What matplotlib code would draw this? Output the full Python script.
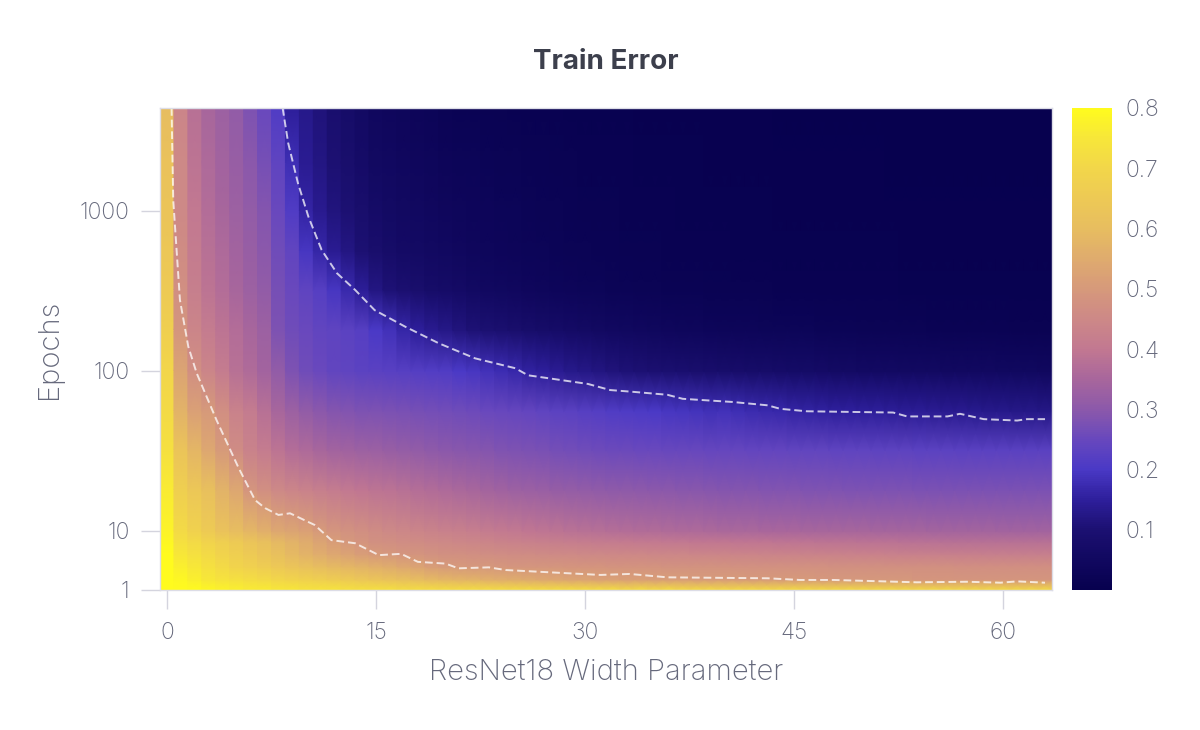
import numpy as np
import matplotlib
matplotlib.use("Agg")
import matplotlib.pyplot as plt
from matplotlib.colors import LinearSegmentedColormap

plt.rcParams['font.family'] = ['Inter', 'DejaVu Sans']

# Data (train error)
widths = list(range(64))
epochs = [1, 1.5, 2.5, 4, 6.5, 10, 18, 32, 56, 100, 180, 320, 560, 1000, 2000, 4400]

train_error = [
    # epoch 1
    [82, 81, 80, 79, 78, 77, 76, 76, 75, 75, 74, 74, 74, 73, 73, 73, 73, 72, 72, 72,
     72, 72, 72, 72, 72, 72, 72, 72, 72, 72, 72, 72, 72, 71, 72, 71, 72, 71, 71, 71,
     71, 71, 71, 71, 71, 71, 71, 71, 71, 71, 71, 71, 71, 71, 71, 71, 71, 71, 71, 71,
     71, 71, 71, 71],
    # epoch 1.5
    [81, 79, 77, 75, 74, 73, 72, 71, 70, 69, 68, 67, 66, 65, 64, 63, 62, 61, 60, 59,
     58, 57.5, 57, 56, 55.5, 55, 54.5, 54, 53.5, 53, 52.5, 52, 52, 51.5, 51.5, 51, 51, 51, 50.5, 50.5,
     50.5, 50.5, 50, 50, 50, 50, 50, 49.5, 49.5, 49.5, 49.5, 49.5, 49.5, 49.5, 49, 49, 49, 49, 49, 49,
     49, 49, 49, 49],
    # epoch 2.5
    [80, 77, 75, 73, 71, 69, 67.5, 66, 64.5, 63, 61.5, 60, 59, 58, 57, 56, 55, 54, 52.5, 51,
     50, 49.8, 49.5, 49.5, 49.3, 49, 49, 48.8, 48.8, 48.5, 48.5, 48.5, 48.3, 48.3, 48.2, 48.2, 48, 48, 48, 48,
     48, 47.8, 47.8, 47.8, 47.7, 47.7, 47.6, 47.6, 47.5, 47.5, 47.5, 47.4, 47.4, 47.3, 47.3, 47.2, 47.2, 47.1, 47.1, 47,
     47, 47, 47, 47],
    # epoch 4
    [80, 75, 73, 71, 69, 67, 65, 63, 61, 59, 57, 55.5, 54, 52.5, 51, 50, 49.5, 49, 48.5, 48,
     47.5, 47.2, 47, 46.7, 46.5, 46.2, 46, 45.8, 45.6, 45.4, 45.2, 45, 44.9, 44.8, 44.7, 44.6, 44.5, 44.4, 44.3, 44.2,
     44, 43.9, 43.8, 43.7, 43.6, 43.5, 43.4, 43.3, 43.2, 43.1, 43, 42.9, 42.8, 42.7, 42.6, 42.5, 42.4, 42.3, 42.2, 42.1,
     42, 42, 42, 42],
    # epoch 6.5
    [79, 73, 71, 69, 67, 65, 63, 61, 59, 57, 55, 53, 51, 49.5, 48.5, 47.5, 47, 46.5, 46, 45.5,
     45, 44.6, 44.2, 43.8, 43.4, 43, 42.7, 42.4, 42.1, 41.8, 41.5, 41.2, 41, 40.8, 40.6, 40.4, 40.2, 40, 39.9, 39.8,
     39.7, 39.6, 39.5, 39.4, 39.3, 39.2, 39.1, 39, 38.9, 38.8, 38.7, 38.6, 38.5, 38.4, 38.3, 38.2, 38.1, 38, 38, 38,
     38, 38, 38, 38],
    # epoch 10
    [78, 71, 68, 65, 62, 60, 58, 56, 54, 53, 52, 50, 49, 48, 47, 46, 45.3, 44.6, 44, 43.4,
     42.8, 42.2, 41.6, 41, 40.5, 40, 39.6, 39.2, 38.8, 38.4, 38, 37.7, 37.4, 37.1, 36.8, 36.6, 36.4, 36.2, 36, 35.8,
     35.6, 35.5, 35.4, 35.3, 35.2, 35.1, 35, 35, 34.9, 34.8, 34.7, 34.6, 34.5, 34.4, 34.4, 34.3, 34.3, 34.2, 34.2, 34.1,
     34, 34, 34, 34],
    # epoch 18
    [76, 67, 64, 61, 57, 54, 49, 47, 45, 44, 43, 42, 41, 40, 39.5, 39, 38.5, 38, 37.3, 36.6,
     36, 35.4, 34.8, 34.2, 33.6, 33, 32.6, 32.2, 31.8, 31.4, 31, 30.8, 30.6, 30.4, 30.2, 30, 29.8, 29.6, 29.4, 29.2,
     29, 28.9, 28.8, 28.7, 28.6, 28.5, 28.4, 28.3, 28.2, 28.1, 28, 28, 27.9, 27.9, 27.8, 27.8, 27.7, 27.7, 27.6, 27.6,
     27.5, 27.5, 27.5, 27.5],
    # epoch 32
    [73, 63, 58, 54, 50, 46, 43, 41, 39, 37, 36, 35, 34, 33.5, 33, 32.5, 32, 31.5, 31, 30.5,
     30, 29.6, 29.2, 28.8, 28.4, 28, 27.6, 27.2, 26.8, 26.4, 26, 25.8, 25.6, 25.4, 25.2, 25, 24.9, 24.8, 24.7, 24.6,
     24.5, 24.4, 24.3, 24.2, 24.1, 24, 23.9, 23.8, 23.7, 23.6, 23.5, 23.4, 23.3, 23.2, 23.1, 23, 22.9, 22.8, 22.7, 22.6,
     22.5, 22.5, 22.5, 22.5],
    # epoch 56
    [71, 57, 52, 50, 47, 43, 41, 38, 35, 33, 31, 30, 29, 28.5, 28, 28, 27.7, 27.4, 27.1, 26.8,
     26.5, 26.1, 25.7, 25.3, 24.9, 24.5, 24.1, 23.6, 23.1, 22.6, 22, 21.6, 21.2, 20.8, 20.4, 20, 19.6, 19.2, 18.8, 18.4,
     18.5, 18, 17.5, 17, 16.6, 16.2, 15.9, 15.6, 15.3, 15.1, 14.9, 14.7, 14.5, 14.3, 14.1, 13.9, 13.7, 13.5, 13.3, 13.1,
     12.9, 12.7, 12.5, 12.4],
    # epoch 100
    [70, 53, 47, 44, 41, 38, 36.5, 34, 31, 28, 26, 25, 24, 23.5, 23, 22.5, 22.2, 22, 21.7, 21.4,
     21, 20.3, 19.5, 18.6, 17.6, 16.6, 15.6, 14.7, 13.8, 13, 12.3, 11.6, 11, 10.5, 10, 9.6, 9.2, 8.8, 8.5, 8.2,
     7.9, 7.6, 7.4, 7.2, 7, 6.8, 6.6, 6.4, 6.2, 6, 5.9, 5.8, 5.7, 5.6, 5.5, 5.4, 5.3, 5.2, 5.1, 5,
     4.9, 4.8, 4.7, 4.6],
    # epoch 180
    [67, 49, 44, 41, 39, 37, 35, 33, 28, 26, 25, 24, 23.5, 23, 22, 20, 18.5, 16.5, 15, 13.5,
     12.5, 11.5, 10.5, 9.8, 9.2, 8.6, 8, 7.5, 7, 6.5, 6, 5.6, 5.2, 4.8, 4.5, 4.2, 3.9, 3.7, 3.5, 3.3,
     3.1, 3, 2.9, 2.8, 2.7, 2.6, 2.5, 2.4, 2.3, 2.2, 2.1, 2, 2, 1.9, 1.9, 1.8, 1.8, 1.7, 1.7, 1.6,
     1.6, 1.5, 1.5, 1.5],
    # epoch 320
    [65, 47, 42, 39, 37, 35, 33, 31, 27, 25, 23.5, 22, 19.5, 17, 14.5, 12, 10.5, 9.5, 8.5, 7.5,
     7, 6.4, 5.8, 5.3, 4.8, 4.4, 4, 3.7, 3.4, 3.1, 2.8, 2.6, 2.4, 2.2, 2, 1.9, 1.8, 1.7, 1.6, 1.5,
     1.4, 1.35, 1.3, 1.25, 1.2, 1.15, 1.1, 1.05, 1, 1, 1, 0.95, 0.95, 0.9, 0.9, 0.9, 0.85, 0.85, 0.8, 0.8,
     0.8, 0.8, 0.8, 0.8],
    # epoch 560
    [64, 46, 41, 38, 36, 34, 32, 30, 26, 24, 19.5, 16.5, 14, 12, 10, 8.5, 7.5, 6.5, 6, 5.5,
     5, 4.5, 4, 3.6, 3.3, 3, 2.7, 2.5, 2.3, 2.1, 1.9, 1.7, 1.6, 1.5, 1.4, 1.3, 1.2, 1.1, 1.05, 1,
     0.95, 0.9, 0.85, 0.8, 0.8, 0.75, 0.75, 0.7, 0.7, 0.7, 0.7, 0.65, 0.65, 0.6, 0.6, 0.6, 0.55, 0.55, 0.5, 0.5,
     0.5, 0.5, 0.5, 0.5],
    # epoch 1000
    [63, 45, 40, 37, 35, 33, 31, 29, 25, 21, 16, 13.5, 11.5, 10, 8.5, 7, 6, 5.5, 5, 4.5,
     4, 3.6, 3.2, 2.9, 2.7, 2.5, 2.3, 2.1, 1.9, 1.7, 1.5, 1.4, 1.3, 1.2, 1.1, 1, 0.95, 0.9, 0.85, 0.8,
     0.7, 0.7, 0.65, 0.65, 0.6, 0.6, 0.55, 0.55, 0.5, 0.5, 0.5, 0.5, 0.45, 0.45, 0.45, 0.4, 0.4, 0.4, 0.4, 0.4,
     0.4, 0.4, 0.4, 0.4],
    # epoch 2000
    [62, 45, 39, 36, 34, 32, 30, 27, 23.5, 18, 14, 12, 10, 8.5, 7, 5.5, 5, 4.5, 4, 3.5,
     3, 2.8, 2.5, 2.3, 2.1, 2, 1.8, 1.6, 1.4, 1.3, 1.2, 1.1, 1, 0.95, 0.9, 0.8, 0.75, 0.7, 0.65, 0.6,
     0.5, 0.5, 0.5, 0.45, 0.45, 0.4, 0.4, 0.4, 0.35, 0.35, 0.35, 0.35, 0.3, 0.3, 0.3, 0.3, 0.3, 0.3, 0.3, 0.3,
     0.3, 0.3, 0.3, 0.3],
    # epoch 4400
    [60, 44, 38, 35, 33, 31, 28, 25, 21, 15, 13, 11, 9, 7.5, 6, 4.5, 4, 3.5, 3, 2.5,
     2, 1.8, 1.6, 1.5, 1.3, 1.2, 1.1, 1, 0.95, 0.9, 0.8, 0.75, 0.7, 0.65, 0.6, 0.55, 0.5, 0.5, 0.45, 0.45,
     0.4, 0.4, 0.35, 0.35, 0.3, 0.3, 0.3, 0.3, 0.25, 0.25, 0.25, 0.25, 0.2, 0.2, 0.2, 0.2, 0.2, 0.2, 0.2, 0.2,
     0.2, 0.2, 0.2, 0.2],
]

# dashed contour lines (width, epoch)
upper_w = [8.3, 8.7, 9.4, 10.15, 11.1, 12.2, 13.5, 14.9, 17.1, 19.5, 22.1, 25.0, 25.9, 30.2, 31.8,
           33.5, 35.9, 37.0, 40.6, 43.1, 44.0, 45.9, 52.1, 53.1, 56.0, 56.9, 58.6, 61.0, 61.7, 63.0]
upper_e = [4400, 2650, 1490, 920, 570, 408, 321, 240, 189, 149, 120, 104, 94, 83, 76,
           74, 71, 67, 64, 61, 58, 56, 55, 52, 52, 54, 50, 49, 50, 50]
lower_w = [0.33, 0.45, 0.93, 1.53, 2.13, 3.57, 5.12, 6.32, 7.04, 8.0, 8.83, 10.6, 11.8, 13.5, 15.2, 16.8,
           18.0, 20.0, 20.9, 23.1, 24.3, 31.1, 33.2, 35.9, 43.1, 45.4, 47.8, 53.8, 57.4, 59.8, 61.0, 63.0]
lower_e = [4400, 1170, 278, 142, 97, 49, 25, 15.6, 13.9, 12.6, 12.9, 10.9, 7.0, 6.2, 3.9, 4.1,
           3.0, 2.8, 2.33, 2.42, 2.18, 1.8, 1.87, 1.64, 1.58, 1.48, 1.48, 1.35, 1.38, 1.33, 1.4, 1.33]

cbar_ticks = [0.1, 0.2, 0.3, 0.4, 0.5, 0.6, 0.7, 0.8]

# colormap taken from the colour bar
cmap = LinearSegmentedColormap.from_list('train', [
    '#07014f', '#110860', '#1c1072', '#2e1f9c', '#4a39c6', '#6848bd', '#8c59aa', '#a8669c',
    '#c27891', '#cd8887', '#d6997b', '#dfab6e', '#e7bd60', '#edc955', '#f2d64a', '#f7e63a', '#fffb1e'])

# y axis: log above 10, squeezed between 1 and 10
k = 59 / 160


def fwd(e):
    l = np.log10(np.clip(np.asarray(e, float), 1e-6, None))
    return np.where(l < 1, 1 - (1 - l) * k, l)


def inv(p):
    p = np.asarray(p, float)
    return np.where(p < 1, 10 ** (1 - (1 - p) / k), 10 ** p)


tick_col = '#66697c'
line_col = '#d4d4de'

fig = plt.figure(figsize=(12, 7.3), dpi=100)
ax = fig.add_axes([160 / 1200, 140 / 730, 892 / 1200, 482 / 730])
ax.set_yscale('function', functions=(fwd, inv))

# flat columns, smooth along epochs
z = np.repeat(np.array(train_error) / 100.0, 2, axis=1)
xv = np.repeat(widths, 2) + np.tile([-0.5, 0.5], len(widths))
mesh = ax.pcolormesh(xv, epochs, z, shading='gouraud', cmap=cmap, vmin=0, vmax=0.8)

ax.plot(upper_w, upper_e, color='white', alpha=0.75, lw=1.4, dashes=(4, 2))
ax.plot(lower_w, lower_e, color='white', alpha=0.75, lw=1.4, dashes=(4, 2))

ax.set_xlim(-0.5, 63.5)
ax.set_ylim(1, 4400)
ax.set_xticks([0, 15, 30, 45, 60])
ax.set_yticks([1, 10, 100, 1000])
ax.set_yticklabels(['1', '10', '100', '1000'])
ax.minorticks_off()
ax.tick_params(axis='both', length=14, width=1, color=line_col, labelcolor=tick_col, labelsize=16.5)
ax.tick_params(axis='y', pad=8)
ax.tick_params(axis='x', pad=9)
for lab in ax.get_xticklabels() + ax.get_yticklabels():
    lab.set_fontweight('light')
for s in ax.spines.values():
    s.set_color('#dcdce6')
    s.set_linewidth(1)

cax = fig.add_axes([1072 / 1200, 140 / 730, 40 / 1200, 482 / 730])
cb = fig.colorbar(mesh, cax=cax, ticks=cbar_ticks)
cb.outline.set_visible(False)
cax.tick_params(length=0, pad=10, labelcolor=tick_col, labelsize=16.5)
for lab in cax.get_yticklabels():
    lab.set_fontweight('light')

fig.text(606 / 1200, 1 - 62 / 730, 'Train Error', ha='center', va='center',
         fontsize=20, fontweight='bold', color='#3c3f4c')
fig.text(606 / 1200, 1 - 672 / 730, 'ResNet18 Width Parameter', ha='center', va='center',
         fontsize=21, fontweight='light', color=tick_col)
fig.text(50 / 1200, 1 - 349 / 730, 'Epochs', ha='center', va='center', rotation=90,
         fontsize=21, fontweight='light', color=tick_col)

fig.savefig('out.png', dpi=100)
